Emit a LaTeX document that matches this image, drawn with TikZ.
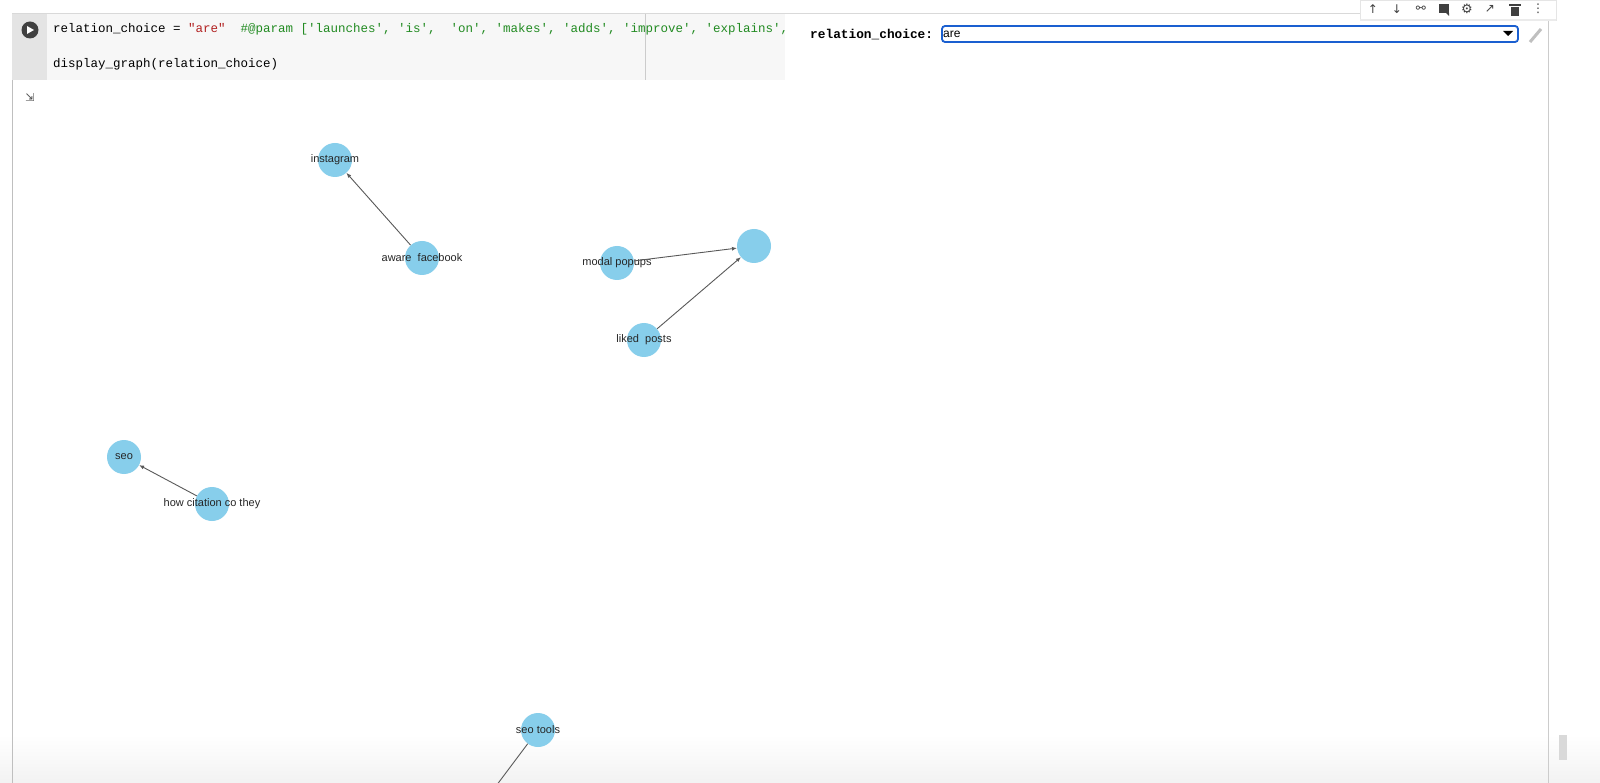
\documentclass[tikz,border=0pt]{standalone}
\usepackage{fontspec}
\setmainfont{Liberation Sans}
\setmonofont{Liberation Mono}
\newfontfamily\dejavu{DejaVu Sans}
\usetikzlibrary{arrows.meta}
\definecolor{nodeblue}{HTML}{87CEEB}
\definecolor{codegray}{HTML}{F7F7F7}
\definecolor{guttergray}{HTML}{E4E4E4}
\definecolor{strred}{HTML}{B22222}
\definecolor{cmtgreen}{HTML}{228B22}
\definecolor{selblue}{HTML}{1A5FD0}
\begin{document}
\begin{tikzpicture}[x=1pt,y=-1pt,
  gnode/.style={circle,fill=nodeblue,minimum size=34pt,inner sep=0pt},
  glabel/.style={font=\fontsize{11}{13}\selectfont,text=black!85},
  edge/.style={draw=black!65,line width=0.9pt,-{Latex[length=5pt,width=4pt]}},
  code/.style={font=\ttfamily\fontsize{12.5}{15}\selectfont,anchor=west,inner sep=0pt}]
\useasboundingbox (0,0) rectangle (1600,783);
\fill[white] (0,0) rectangle (1600,783);
% bottom fade
\shade[top color=white,bottom color=black!5] (0,735) rectangle (1600,783);
% cell frame
\draw[black!25,line width=1pt] (12,14) -- (12,783);
\draw[black!15,line width=1pt] (12,14) -- (1548,14);
\draw[black!20,line width=1pt] (1548,14) -- (1548,783);
\fill[black!15] (1559,735) rectangle (1567,760);
% code area
\fill[codegray] (12,14) rectangle (785,80);
\fill[guttergray] (12,14) rectangle (47,80);
\draw[black!20] (645,14) -- (645,80);
\node[circle,fill=black!75,minimum size=17pt,inner sep=0pt] (run) at (30,30) {};
\fill[white] (27,26) -- (27,34) -- (34,30) -- cycle;
\node[code] (l1) at (53,29) {relation\_choice = \textcolor{strred}{"are"}\ \ \textcolor{cmtgreen}{\#@param ['launches', 'is',\ \ 'on', 'makes', 'adds', 'improve', 'explains',}};
\node[code] (l2) at (53,64) {display\_graph(relation\_choice)};
% output icon
\node[font=\dejavu\fontsize{11}{12}\selectfont,text=black!70] (outicon) at (30,97) {⇲};
% form
\node[font=\ttfamily\bfseries\fontsize{12.8}{15}\selectfont,anchor=west,inner sep=0pt] (flabel) at (810,35) {relation\_choice:};
\draw[selblue,line width=1.8pt,rounded corners=3pt] (942,26) rectangle (1518,42);
\node[font=\fontsize{12}{14}\selectfont,anchor=west,inner sep=0pt] (fval) at (943,34) {are};
\fill[black] (1503,31) -- (1513,31) -- (1508,36) -- cycle;
\draw[black!25,line width=3pt] (1530,42) -- (1541,29);
% toolbar
\draw[black!10,fill=white] (1360,0) rectangle (1556,20);
\fill[black!8] (1360,19) rectangle (1556,21);
\foreach \x/\s in {1373/↑,1397/↓,1421/⚯,1490/↗,1538/⋮}{
  \node[font=\dejavu\fontsize{12}{12}\selectfont,text=black!75] at (\x,9) {\s};}
\fill[black!75] (1439,4) rectangle (1449,13); \fill[black!75] (1446,13) -- (1449,13) -- (1449,16) -- cycle;
\node[font=\dejavu\fontsize{13}{13}\selectfont,text=black!75] at (1467,9) {⚙};
\fill[black!75] (1511,7) rectangle (1519,16); \fill[black!75] (1509,4.5) rectangle (1521,6);
% graph
\node[gnode] (insta) at (335,160) {};
\node[glabel] at (insta) {instagram};
\node[gnode] (aware) at (422,258) {};
\node[glabel] at (aware) {aware\ \ facebook};
\node[gnode] (modal) at (617,263) {};
\node[glabel] at (modal) {modal popups};
\node[gnode] (blank) at (754,246) {};
\node[gnode] (liked) at (644,340) {};
\node[glabel] at (liked) {liked\ \ posts};
\node[gnode] (seo) at (124,457) {};
\node[glabel] at (seo) {seo};
\node[gnode] (how) at (212,504) {};
\node[glabel] at (how) {how citation co they};
\node[gnode] (tools) at (538,730) {};
\node[glabel] at (tools) {seo tools};
\coordinate (off) at (496,786);
\draw[edge] (aware) -- (insta);
\draw[edge] (modal) -- (blank);
\draw[edge] (liked) -- (blank);
\draw[edge] (how) -- (seo);
\draw[black!65,line width=0.9pt] (tools) -- (off);
\end{tikzpicture}
\end{document}
